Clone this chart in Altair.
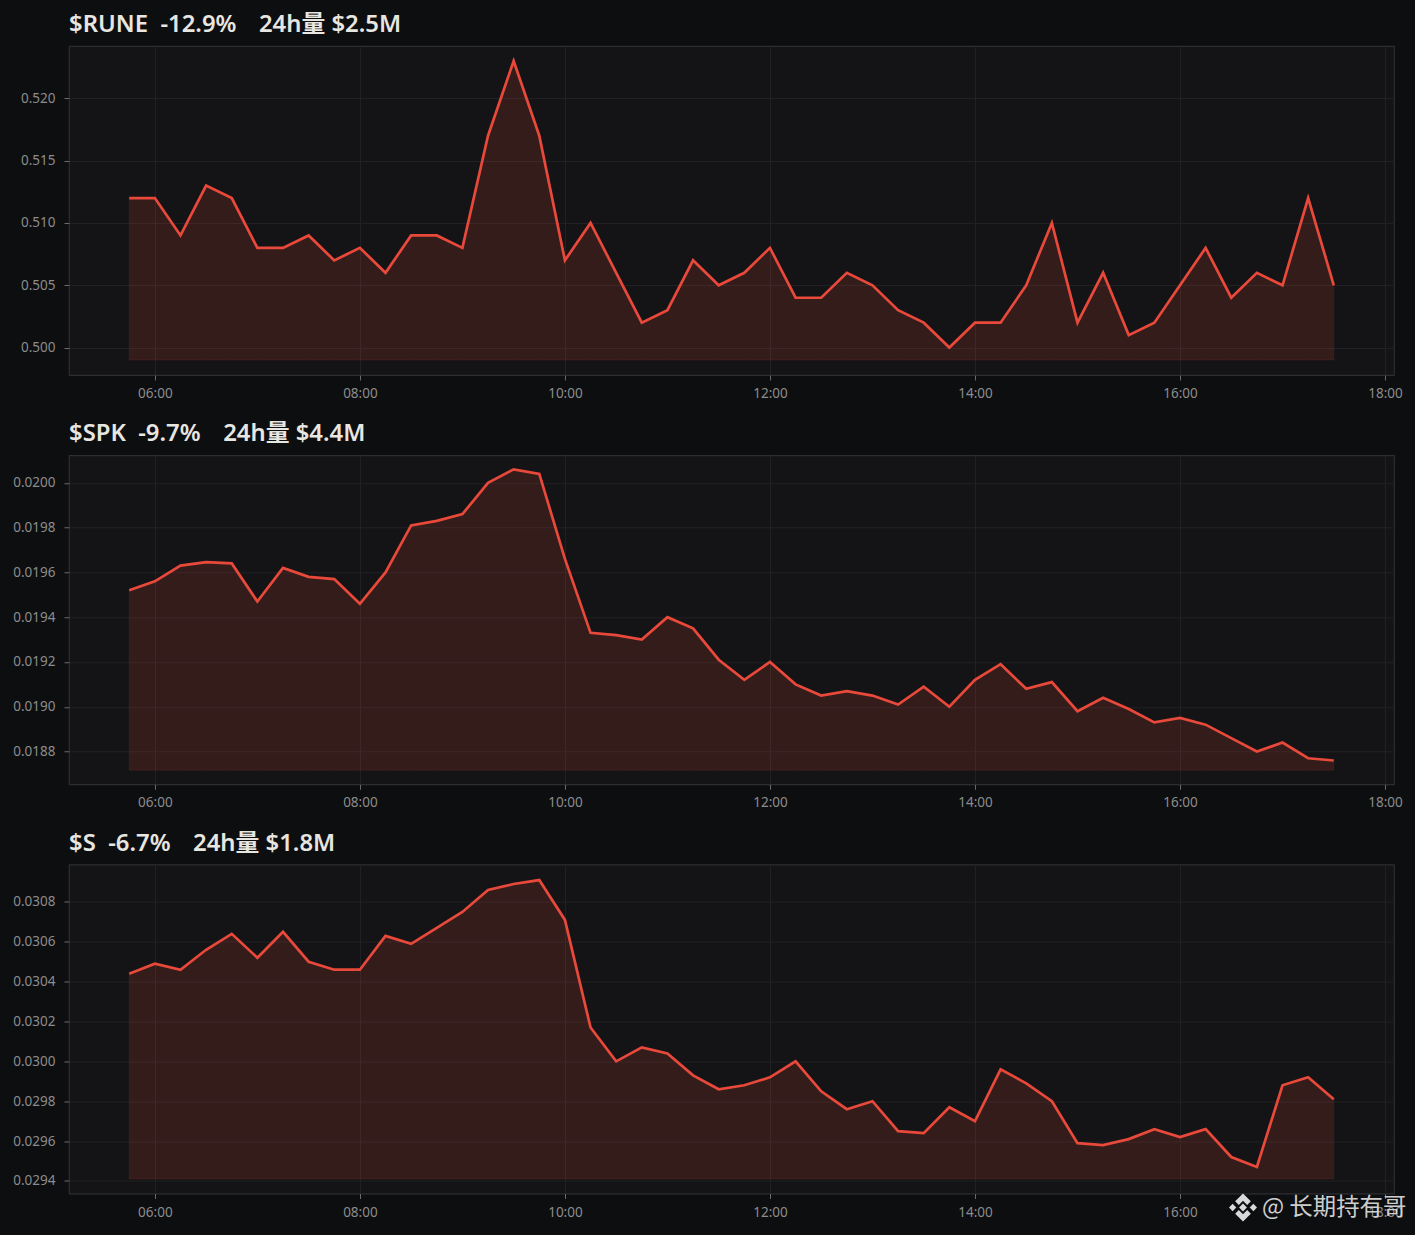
import altair as alt
import pandas as pd

times = pd.date_range("2025-01-01T05:45", "2025-01-01T17:30", freq="15min")

rune = [.512,.512,.509,.513,.512,.508,.508,.509,.507,.508,.506,.509,.509,.508,.517,.523,.517,.507,.510,.506,.502,.503,.507,.505,.506,.508,.504,.504,.506,.505,.503,.502,.500,.502,.502,.505,.510,.502,.506,.501,.502,.505,.508,.504,.506,.505,.512,.505]
spk = [.01952,.01956,.01963,.019646,.01964,.01947,.01962,.01958,.01957,.01946,.01960,.01981,.01983,.01986,.02000,.02006,.02004,.01966,.01933,.01932,.01930,.01940,.01935,.01921,.01912,.01920,.01910,.01905,.01907,.01905,.01901,.01909,.01900,.01912,.01919,.01908,.01911,.01898,.01904,.01899,.01893,.01895,.01892,.01886,.01880,.01884,.01877,.01876]
s = [.03044,.03049,.03046,.03056,.03064,.03052,.03065,.03050,.03046,.03046,.03063,.03059,.03067,.03075,.03086,.03089,.03091,.03071,.03017,.03000,.03007,.03004,.02993,.02986,.02988,.02992,.03000,.02985,.02976,.02980,.02965,.02964,.02977,.02970,.02996,.02989,.02980,.02959,.02958,.02961,.02966,.02962,.02966,.02952,.02947,.02988,.02992,.02981]

titles = ["$RUNE\u00a0\u00a0-12.9%\u00a0\u00a0\u00a0\u200924h量 $2.5M",
          "$SPK\u00a0\u00a0-9.7%\u00a0\u00a0\u00a0\u200924h量 $4.4M",
          "$S\u00a0\u00a0-6.7%\u00a0\u00a0\u00a0\u200924h量 $1.8M"]
bases = [0.499, 0.018717, 0.02941]
domains = [[0.4978, 0.5242], [0.018654, 0.020123], [0.029337, 0.030988]]
yticks = [[.500,.505,.510,.515,.520],
          [.0188,.0190,.0192,.0194,.0196,.0198,.0200],
          [.0294,.0296,.0298,.0300,.0302,.0304,.0306,.0308]]
formats = [".3f", ".4f", ".4f"]
xticks = [f"2025-01-01T{h:02d}:00:00" for h in range(6, 19, 2)]
xdomain = ["2025-01-01T05:09:45", "2025-01-01T18:05:15"]

BG = "#0d0e10"
PANEL = "#141416"
GRID = "#212125"
BORDER = "#2d2e31"
RED = "#e8493a"
FONT = "Noto Sans"
CJK = "Noto Sans, Noto Sans CJK SC"

W, H = 1325, 329


def panel(vals, title, base, dom, ticks, fmt, extra=()):
    df = pd.DataFrame({"t": times.strftime("%Y-%m-%dT%H:%M:%S"), "v": vals, "b": base})
    x = alt.X("t:T", title=None, scale=alt.Scale(domain=xdomain),
              axis=alt.Axis(format="%H:%M", values=xticks,
                            gridColor=GRID, gridWidth=1, domain=False,
                            tickColor="#6a6a6a", tickSize=5, labelColor="#8c8c8c",
                            labelFontSize=13.5, labelFont=FONT, labelPadding=6.5))
    y = alt.Y("v:Q", title=None, scale=alt.Scale(domain=dom, nice=False, zero=False),
              axis=alt.Axis(values=ticks, format=fmt, gridColor=GRID, gridWidth=1, domain=False,
                            tickColor="#6a6a6a", tickSize=5, labelColor="#8c8c8c",
                            labelFontSize=13.5, labelFont=FONT, labelPadding=9))
    base_ch = alt.Chart(df)
    area = base_ch.mark_area(color=RED, fillOpacity=0.15, stroke=RED, strokeOpacity=0.12, strokeWidth=1).encode(
        x=x, y=y, y2="b:Q")
    line = base_ch.mark_line(color=RED, strokeWidth=2.7).encode(x=x, y=y)
    return alt.layer(area, line, *extra).properties(
        width=W, height=H,
        title=alt.TitleParams(title, anchor="start", frame="group", font=CJK, fontSize=23.85,
                              fontWeight=600, color="#e8e6e1", offset=9))


wm_df = pd.DataFrame({"a": [0]})
mark_path = ("M0,-0.28L0.28,0L0,0.28L-0.28,0Z"
             "M-1,0L-0.74,-0.26L-0.48,0L-0.74,0.26Z"
             "M1,0L0.74,-0.26L0.48,0L0.74,0.26Z"
             "M0,-1L0.56,-0.44L0.3,-0.18L0,-0.48L-0.3,-0.18L-0.56,-0.44Z"
             "M0,1L0.56,0.44L0.3,0.18L0,0.48L-0.3,0.18L-0.56,0.44Z")
wm_text = alt.Chart(wm_df).mark_text(text="@ 长期持有哥", font="Noto Sans CJK SC", fontSize=23.4, color="#d9d9d9",
                                     align="left", baseline="middle", opacity=0.95).encode(
    x=alt.value(1193), y=alt.value(343))
wm_icon = alt.Chart(wm_df).mark_point(shape=mark_path, filled=True, color="#d9d9d9", size=784, opacity=1).encode(
    x=alt.value(1174), y=alt.value(343))

p1 = panel(rune, titles[0], bases[0], domains[0], yticks[0], formats[0])
p2 = panel(spk, titles[1], bases[1], domains[1], yticks[1], formats[1])
p3 = panel(s, titles[2], bases[2], domains[2], yticks[2], formats[2], extra=(wm_text, wm_icon))

chart = alt.vconcat(p1, p2, p3, spacing=20.25, background=BG,
                    padding={"left": 4, "top": 4, "right": 0, "bottom": 5}
                    ).configure_view(fill=PANEL, stroke=BORDER, strokeWidth=1.2)

chart.save("out.html", embed_options={"renderer": "svg", "actions": False})

with open("out.html", encoding="utf-8") as f:
    html = f.read()
html = html.replace("<head>", "<head><style>html,body{background:%s}</style>" % BG, 1)
with open("out.html", "w", encoding="utf-8") as f:
    f.write(html)
